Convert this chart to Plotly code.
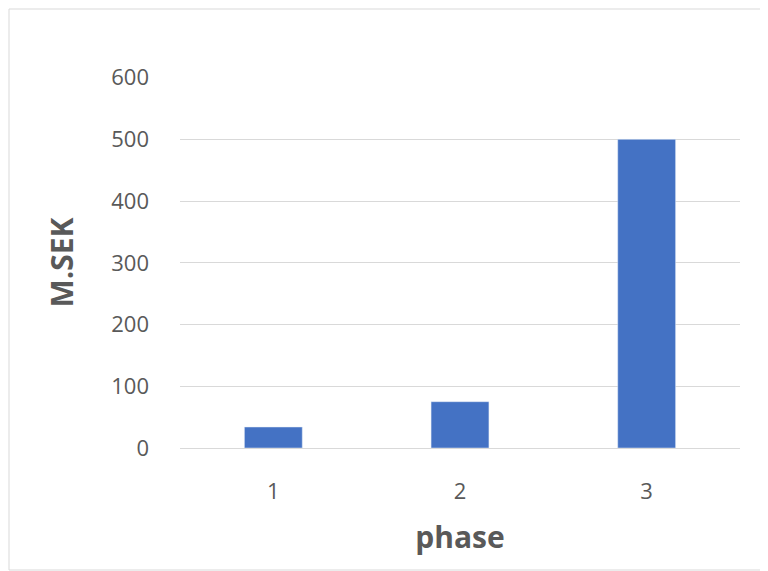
import plotly.graph_objects as go

phases = ["1", "2", "3"]
values = [34, 75, 500]

W, H = 760, 563
L, R, T, B = 172, 28, 69, 123
pw, ph = W - L - R, H - T - B

fig = go.Figure(go.Bar(x=phases, y=values, marker_color="#4472C4", width=0.31))
fig.update_layout(
    width=W, height=H,
    margin=dict(l=L, r=R, t=T, b=B),
    paper_bgcolor="white", plot_bgcolor="white",
    font=dict(family="Open Sans", color="#595959", size=22),
    showlegend=False,
    shapes=[dict(type="rect", xref="paper", yref="paper", x0=-(L - 1) / pw, x1=1 + (R - 1) / pw,
                 y0=-(B - 1) / ph, y1=1 + (T - 1) / ph, line=dict(color="#D9D9D9", width=1))],
)
fig.update_xaxes(type="category", showline=True, linecolor="#D9D9D9", ticks="",
                 ticklabelstandoff=24,
                 title=dict(text="<b>phase</b>", font=dict(size=30, color="#595959"), standoff=22))
fig.update_yaxes(range=[0, 601], tickvals=[0, 100, 200, 300, 400, 500, 600],
                 gridcolor="#D9D9D9", zeroline=False, ticks="",
                 ticklabelstandoff=30,
                 title=dict(text="<b>M.SEK</b>", font=dict(size=30, color="#595959"), standoff=28))
fig.write_html("out.html")
